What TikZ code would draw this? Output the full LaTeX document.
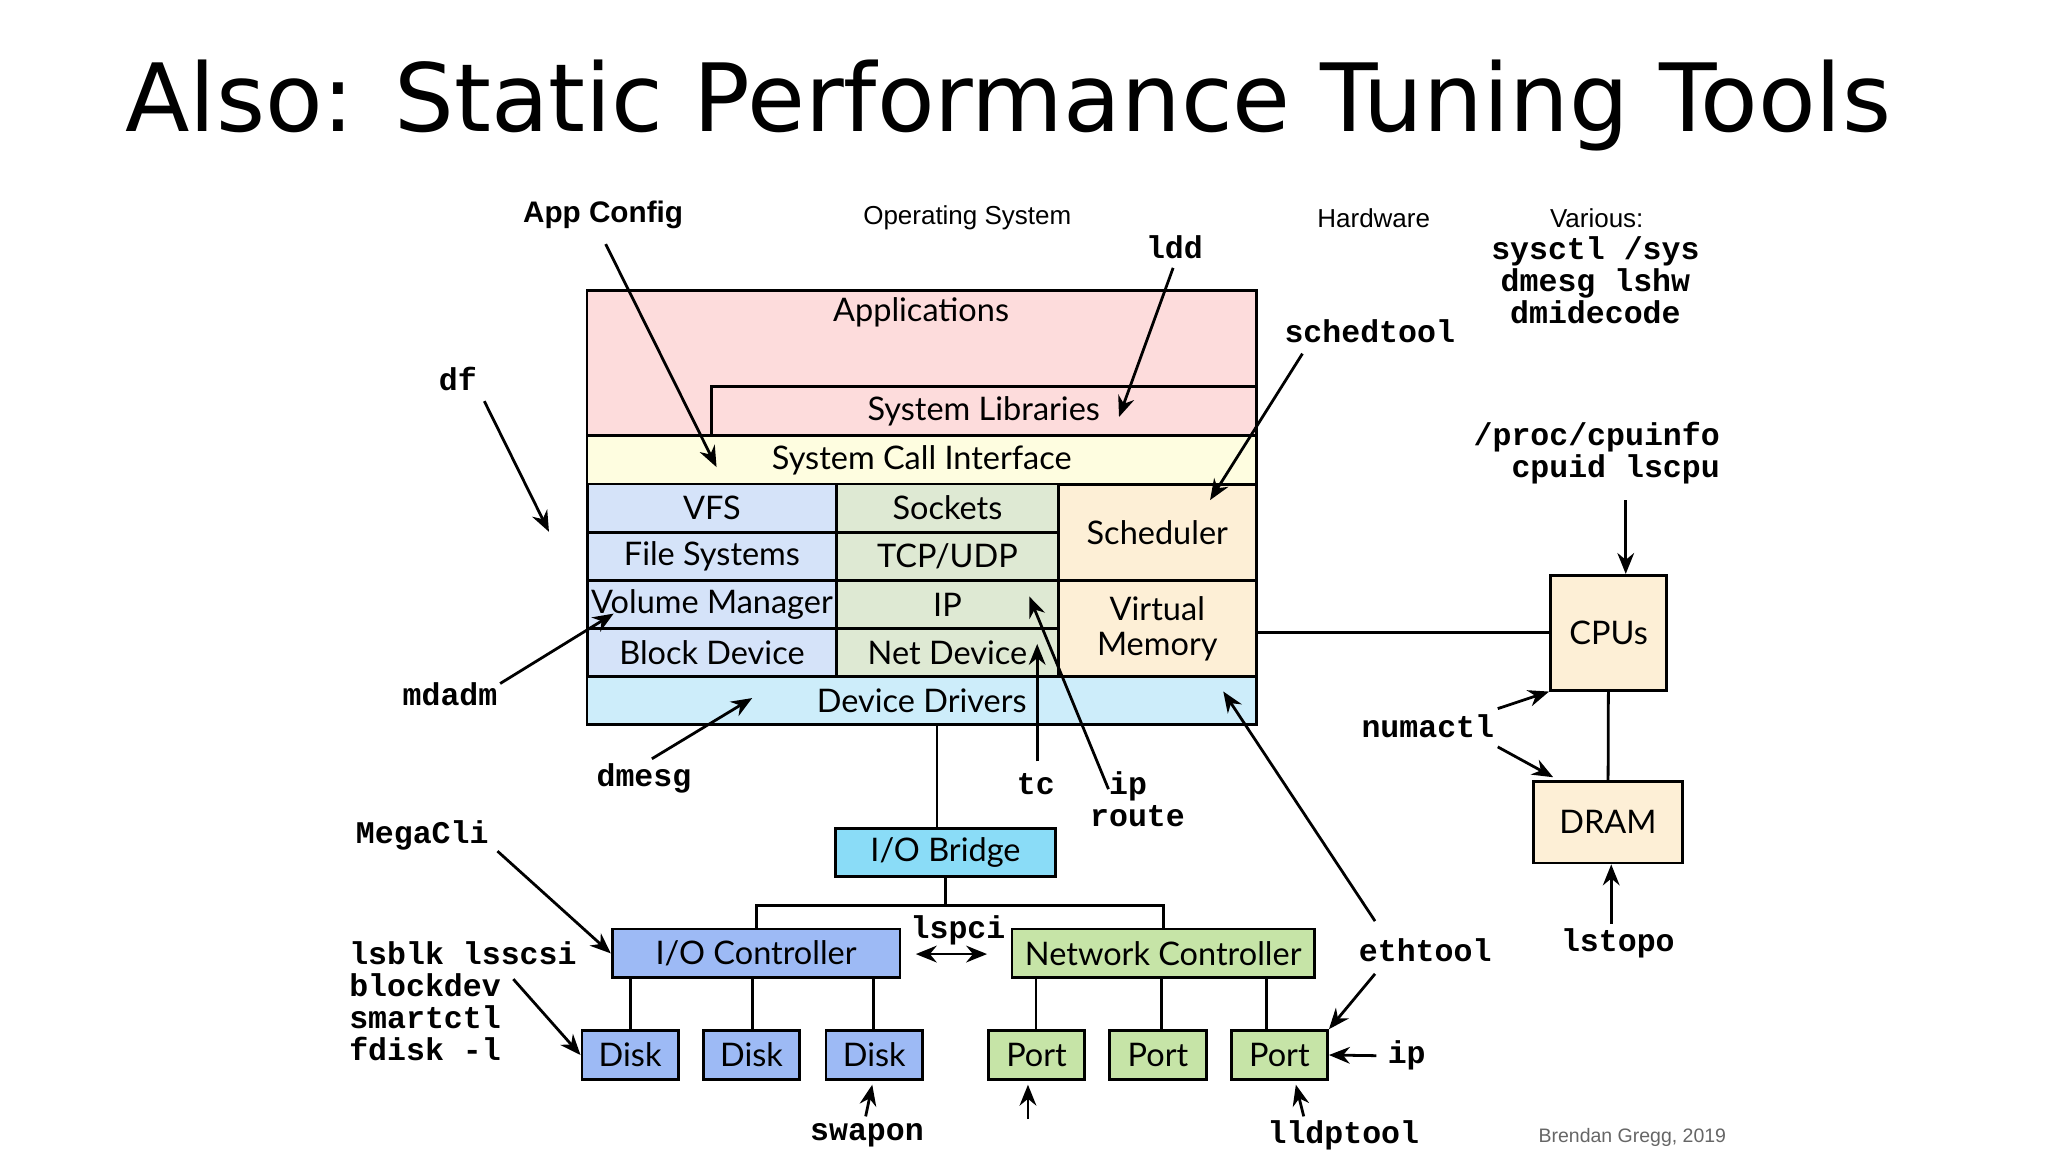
\documentclass[tikz,border=0pt]{standalone}
\usepackage{fontspec}
\setmainfont{Lato}
\newfontfamily\titlefont{DejaVu Sans}
\newfontfamily\hdfont{Liberation Sans}
\newfontfamily\cmdfont{Liberation Mono}
\usetikzlibrary{arrows.meta}
\definecolor{appc}{HTML}{FDDCDC}
\definecolor{sysc}{HTML}{FEFDE0}
\definecolor{fsc}{HTML}{D5E3F9}
\definecolor{netc}{HTML}{DEE9D3}
\definecolor{cpuc}{HTML}{FDEFD6}
\definecolor{drvc}{HTML}{CDEDFA}
\definecolor{brc}{HTML}{8ADCF7}
\definecolor{ioc}{HTML}{9DBAF5}
\definecolor{nwc}{HTML}{C6E4A7}
\begin{document}
\begin{tikzpicture}[x=0.01cm,y=-0.01cm,
  box/.style={draw,line width=0.6pt,inner sep=0pt,font=\fontsize{7}{8}\selectfont},
  cmd/.style={inner sep=0pt,font=\cmdfont\bfseries\fontsize{6.8}{6.9}\selectfont},
  hd/.style={inner sep=0pt,font=\hdfont\fontsize{5.6}{6}\selectfont},
  ln/.style={line width=0.6pt},
  arr/.style={line width=0.6pt,-{Stealth[length=4.5pt,width=3.6pt]}}]
\useasboundingbox[fill=white] (0,0) rectangle (1552,873);
\node[inner sep=0pt,font=\titlefont\fontsize{20.3}{22}\selectfont] (title) at (764,80) {Also: Static Performance Tuning Tools};

% operating system stack
\node[box,fill=appc,minimum width=5.07cm,minimum height=1.10cm] (app) at (698.5,275) {};
\node[box,draw=none] (apptext) at (698,237) {Applications};
\node[box,fill=appc,minimum width=4.13cm,minimum height=0.37cm] (lib) at (745.5,311.5) {System Libraries};
\node[box,fill=sysc,minimum width=5.07cm,minimum height=0.37cm] (sci) at (698.5,348.5) {System Call Interface};
\node[box,fill=fsc,minimum width=1.89cm,minimum height=0.365cm] (vfs) at (539.5,385) {VFS};
\node[box,fill=fsc,minimum width=1.89cm,minimum height=0.365cm] (fs) at (539.5,421.5) {File Systems};
\node[box,fill=fsc,minimum width=1.89cm,minimum height=0.365cm] (vm) at (539.5,458) {Volume Manager};
\node[box,fill=fsc,minimum width=1.89cm,minimum height=0.365cm] (bd) at (539.5,494.5) {Block Device};
\node[box,fill=netc,minimum width=1.68cm,minimum height=0.365cm] (sock) at (718,385) {Sockets};
\node[box,fill=netc,minimum width=1.68cm,minimum height=0.365cm] (tcp) at (718,421.5) {TCP/UDP};
\node[box,fill=netc,minimum width=1.68cm,minimum height=0.365cm] (ip) at (718,458) {IP};
\node[box,fill=netc,minimum width=1.68cm,minimum height=0.365cm] (nd) at (718,494.5) {Net Device};
\node[box,fill=cpuc,minimum width=1.50cm,minimum height=0.73cm] (sched) at (877,403.5) {Scheduler};
\node[box,fill=cpuc,minimum width=1.50cm,minimum height=0.73cm,align=center,font=\fontsize{7}{7.4}\selectfont] (virt) at (877,476.5) {Virtual\\Memory};
\node[box,fill=drvc,minimum width=5.07cm,minimum height=0.365cm] (drv) at (698.5,531) {Device Drivers};

% hardware
\node[box,fill=cpuc,minimum width=0.88cm,minimum height=0.87cm] (cpu) at (1219,479.5) {CPUs};
\node[box,fill=cpuc,minimum width=1.13cm,minimum height=0.62cm] (dram) at (1218.5,623) {DRAM};
\node[box,fill=brc,minimum width=1.67cm,minimum height=0.36cm] (bridge) at (716.5,646) {I/O Bridge};
\node[box,fill=ioc,minimum width=2.18cm,minimum height=0.37cm] (ioctl) at (573,722.5) {I/O Controller};
\node[box,fill=nwc,minimum width=2.29cm,minimum height=0.37cm] (nctl) at (881.5,722.5) {Network Controller};
\node[box,fill=ioc,minimum width=0.73cm,minimum height=0.37cm] (d1) at (477.5,799.5) {Disk};
\node[box,fill=ioc,minimum width=0.73cm,minimum height=0.37cm] (d2) at (569.5,799.5) {Disk};
\node[box,fill=ioc,minimum width=0.73cm,minimum height=0.37cm] (d3) at (662.5,799.5) {Disk};
\node[box,fill=nwc,minimum width=0.73cm,minimum height=0.37cm] (p1) at (785.5,799.5) {Port};
\node[box,fill=nwc,minimum width=0.73cm,minimum height=0.37cm] (p2) at (877.5,799.5) {Port};
\node[box,fill=nwc,minimum width=0.73cm,minimum height=0.37cm] (p3) at (969.5,799.5) {Port};

% wiring
\draw[ln] (app.east |- cpu.west) -- (cpu.west);
\draw[ln] (cpu) -- (dram);
\draw[ln] (drv.south -| bridge.north) ++(-6.5,0) coordinate (drvb) -- (drvb |- bridge.north);
\coordinate (split) at (716.5,686);
\draw[ln] (bridge.south) -- (split);
\draw[ln] (ioctl.north) |- (split) -| (nctl.north);
\foreach \d/\x in {d1/478,d2/570,d3/662}
  \draw[ln] (ioctl.south -| \x,0) -- (\d.north -| \x,0);
\foreach \p/\x in {p1/785,p2/880,p3/960}
  \draw[ln] (nctl.south -| \x,0) -- (\p.north -| \x,0);

% headings
\node[inner sep=0pt,font=\hdfont\bfseries\fontsize{6.4}{7}\selectfont] (appcfg) at (457,163) {App Config};
\node[hd] (oshd) at (733,165) {Operating System};
\node[hd] (hwhd) at (1041,165) {Hardware};
\node[hd] (varhd) at (1210,165) {Various:};
\node[cmd,align=center] (various) at (1209,212) {sysctl /sys\\dmesg lshw\\dmidecode};
\node[inner sep=0pt,font=\hdfont\fontsize{4.2}{5}\selectfont,text=black!60] (credit) at (1237,862) {Brendan Gregg, 2019};

% tool labels
\node[cmd] (ldd) at (890,187) {ldd};
\node[cmd] (schedtool) at (1038,251) {schedtool};
\node[cmd] (df) at (347,287) {df};
\node[cmd,align=left] (cpuinfo) at (1210,343) {/proc/cpuinfo\\\ \ cpuid lscpu};
\node[cmd] (mdadm) at (341,526) {mdadm};
\node[cmd] (dmesg) at (488,590) {dmesg};
\node[cmd] (tc) at (785,594) {tc};
\node[cmd,align=left] (iproute) at (862,606) {\ ip\\route};
\node[cmd] (numactl) at (1082,550) {numactl};
\node[cmd] (megacli) at (320,633) {MegaCli};
\node[cmd] (lspci) at (726,705) {lspci};
\node[cmd] (ethtool) at (1080,720) {ethtool};
\node[cmd] (lstopo) at (1226,715) {lstopo};
\node[cmd,align=left,anchor=north west] (blk) at (264,713) {lsblk lsscsi\\blockdev\\smartctl\\fdisk -l};
\node[cmd] (ipport) at (1066,800) {ip};
\node[cmd] (swapon) at (657,860) {swapon};
\node[cmd] (lldptool) at (1018,860) {lldptool};

% arrows
\coordinate (a1) at (543,354); \draw[arr] (459,185) coordinate (s1) -- (a1);
\coordinate (a2) at (848,316); \draw[arr] (889,203) coordinate (s2) -- (a2);
\coordinate (a3) at (917,379); \draw[arr] (987,268) coordinate (s3) -- (a3);
\coordinate (a4) at (416,403); \draw[arr] (367,304) coordinate (s4) -- (a4);
\draw[arr] (cpuinfo.south -| cpu.north) ++(13,12) coordinate (s5) -- (s5 |- cpu.north);
\coordinate (a6) at (465,465); \draw[arr] (379,518) coordinate (s6) -- (a6);
\coordinate (a7) at (570,529); \draw[arr] (494,575) coordinate (s7) -- (a7);
\coordinate (a8) at (786,488); \draw[arr] (786,577) coordinate (s8) -- (a8);
\coordinate (a9) at (780,452); \draw[arr] (840,598) coordinate (s9) -- (a9);
\coordinate (a10) at (927,524); \draw[arr] (1042,698) coordinate (s10) -- (a10);
\draw[arr] (1042,738) coordinate (s11) -- (p3.north east);
\draw[arr] (1135,537) coordinate (s12) -- (cpu.south west);
\draw[arr] (1135,566) coordinate (s13) -- (1177,589) coordinate (a13);
\draw[arr] (1221,700) coordinate (s14) -- (dram.south -| s14);
\draw[arr] (377,645) coordinate (s15) -- (ioctl.west);
\draw[arr] (389,742) coordinate (s16) -- (d1.west);
\draw[{Stealth[length=4.5pt,width=3.6pt]}-{Stealth[length=4.5pt,width=3.6pt]},line width=0.6pt] (694,723) coordinate (s17) -- (748,723) coordinate (a17);
\draw[arr] (ipport.west) ++(-8,0) coordinate (s18) -- (p3.east);
\draw[arr] (656,846) coordinate (s19) -- (661,822) coordinate (a19);
\draw[arr] (779,848) coordinate (s20) -- (779,822) coordinate (a20);
\draw[arr] (988,846) coordinate (s21) -- (982,822) coordinate (a21);
\end{tikzpicture}
\end{document}
